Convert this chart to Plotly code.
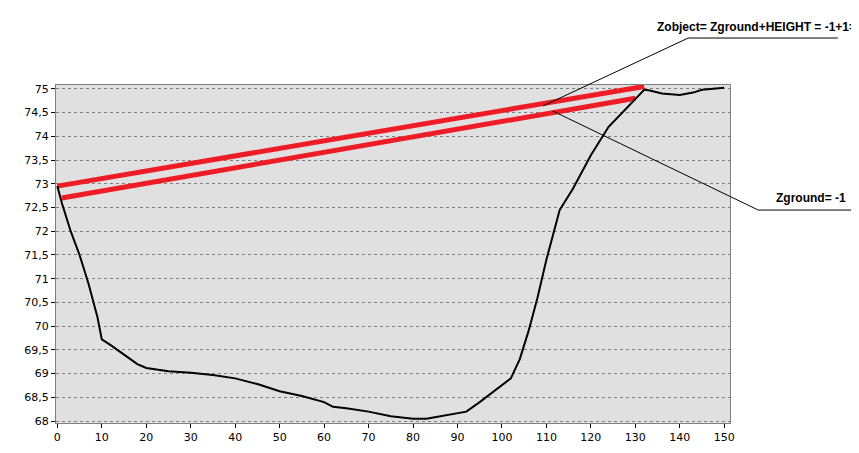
import plotly.graph_objects as go

x_ground = [0, 1, 3, 5, 7, 9, 10, 12, 15, 18, 20, 25, 30, 35, 40, 45, 50, 55, 60, 62, 65, 70, 75, 80, 83, 87, 90, 92,
            95, 100, 102, 104, 106, 108, 110, 112, 113, 116, 120, 124, 127, 130, 132, 133, 136, 140, 143, 145, 150]
z_ground = [72.95, 72.6, 72.0, 71.5, 70.9, 70.2, 69.72, 69.6, 69.4, 69.2, 69.12, 69.05, 69.02, 68.97, 68.9, 68.78,
            68.63, 68.53, 68.4, 68.3, 68.27, 68.2, 68.1, 68.05, 68.05, 68.12, 68.17, 68.2, 68.4, 68.75, 68.9, 69.3,
            69.9, 70.6, 71.4, 72.1, 72.45, 72.9, 73.6, 74.2, 74.5, 74.8, 74.98, 74.97, 74.9, 74.87, 74.92, 74.98, 75.02]
x_object = [0, 132]
z_object = [72.95, 75.05]
x_zg = [1, 130]
z_zg = [72.7, 74.8]
yticks = [68 + 0.5 * i for i in range(15)]
xticks = list(range(0, 151, 10))

fig = go.Figure()
fig.add_trace(go.Scatter(x=x_object, y=z_object, mode="lines", line=dict(color="#ee1c25", width=5)))
fig.add_trace(go.Scatter(x=x_zg, y=z_zg, mode="lines", line=dict(color="#ee1c25", width=5)))
fig.add_trace(go.Scatter(x=x_ground, y=z_ground, mode="lines", line=dict(color="black", width=2)))

shapes = []
for (x0, y0, x1, y1) in [(0.938, 1.139, 1.160, 1.139), (0.938, 1.139, 0.7226, 0.938),
                         (1.042, 0.630, 1.205, 0.630), (1.042, 0.630, 0.737, 0.923)]:
    shapes.append(dict(type="line", xref="paper", yref="paper", x0=x0, y0=y0, x1=x1, y1=y1,
                       line=dict(color="black", width=1)))

fig.update_layout(
    width=859, height=453, showlegend=False,
    margin=dict(l=48, r=137, t=77, b=38, autoexpand=False),
    paper_bgcolor="white", plot_bgcolor="#e0e0e0",
    separators=", ",
    font=dict(family="DejaVu Sans", size=11, color="black"),
    shapes=shapes,
    annotations=[
        dict(text="<b>Zobject= Zground+HEIGHT = -1+1=0</b>", xref="paper", yref="paper", x=1.045, y=1.172,
             showarrow=False, xanchor="center", yanchor="middle",
             font=dict(family="Liberation Sans", size=12)),
        dict(text="<b>Zground= -1</b>", xref="paper", yref="paper", x=1.12, y=0.666,
             showarrow=False, xanchor="center", yanchor="middle",
             font=dict(family="Liberation Sans", size=12)),
    ],
)
fig.update_xaxes(range=[-0.3, 151.3], tickvals=xticks, showgrid=False, zeroline=False,
                 showline=True, linecolor="#808080", mirror=True, ticks="outside", ticklen=4,
                 tickcolor="black")
fig.update_yaxes(range=[67.96, 75.08], tickvals=yticks, showgrid=True, gridcolor="#808080",
                 griddash="dot", gridwidth=1, zeroline=False, showline=True, linecolor="#808080",
                 mirror=True, ticks="outside", ticklen=4, tickcolor="black")
fig.write_html("out.html")
